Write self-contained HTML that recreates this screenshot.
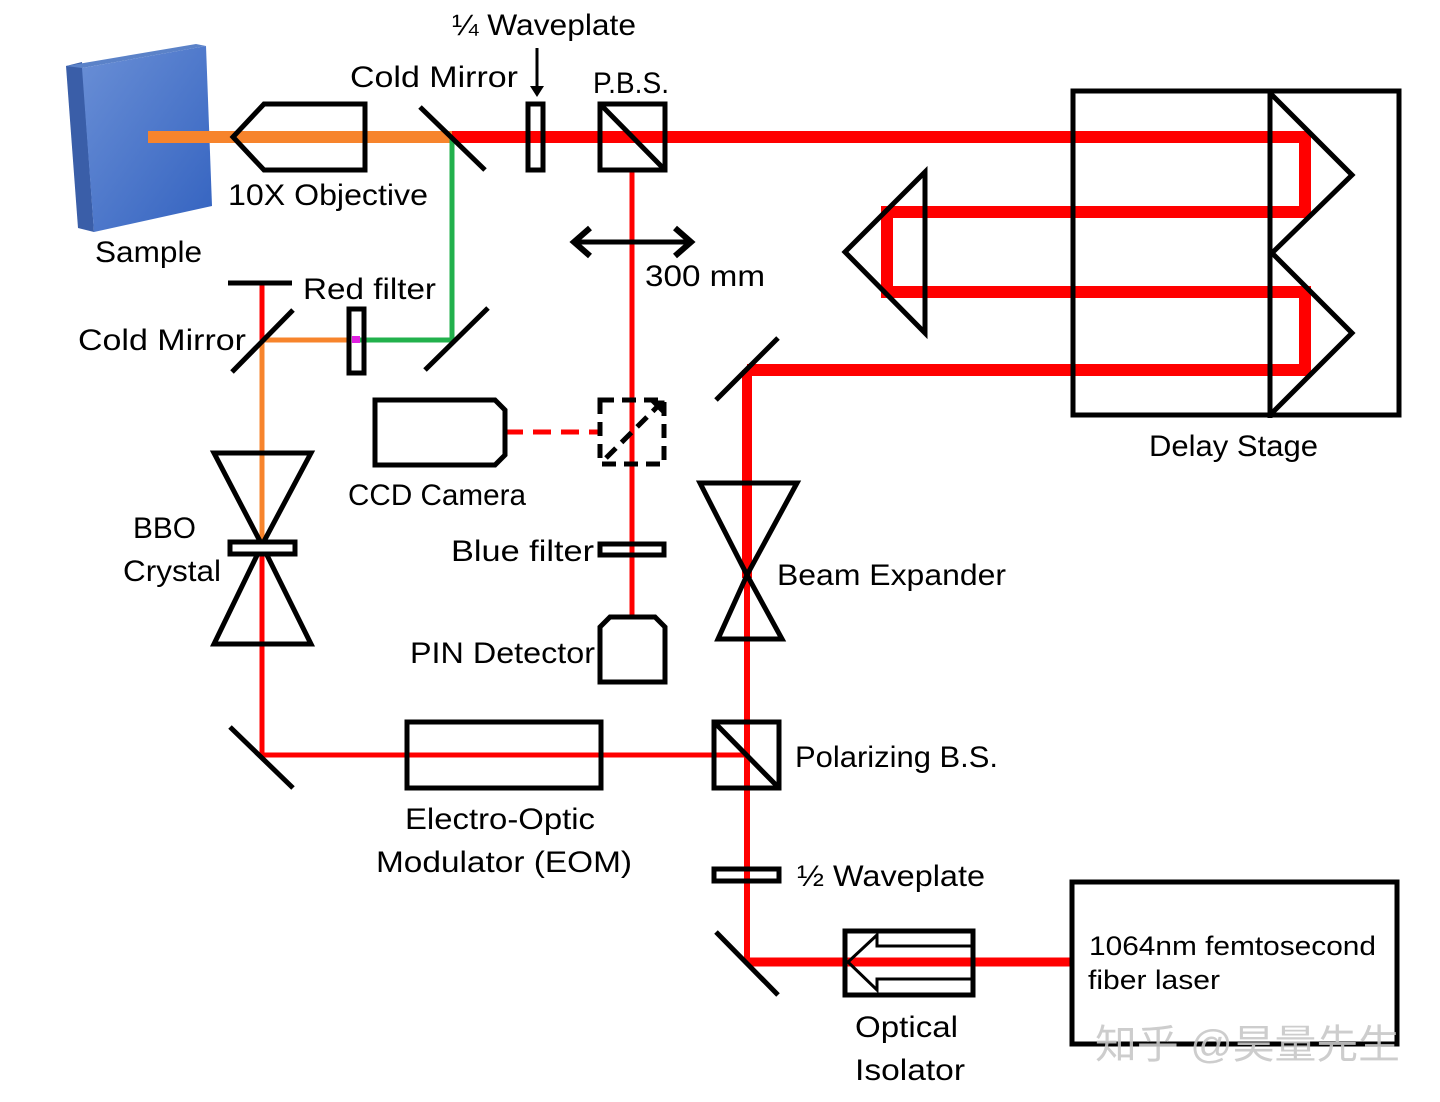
<!DOCTYPE html>
<html><head><meta charset="utf-8"><style>
html,body{margin:0;padding:0;background:#fff;}
svg{display:block}
text{font-family:"Liberation Sans","Noto Sans CJK SC",sans-serif;font-size:30px;fill:#000}
</style></head><body>
<svg width="1440" height="1102" viewBox="0 0 1440 1102">
<defs>
<linearGradient id="bl" x1="0" y1="0" x2="1" y2="1">
<stop offset="0" stop-color="#6a8fd6"/><stop offset="1" stop-color="#3463c0"/></linearGradient>
</defs>
<!-- Sample -->
<polygon points="66,66 82,62 94,232 78,228" fill="#3a5ea8"/>
<polygon points="66,66 196,44 206,46 82,68" fill="#5b82c8"/>
<polygon points="82,68 206,46 212,206 94,232" fill="url(#bl)"/>
<!-- beams -->
<g fill="none" stroke-linejoin="miter">
<line x1="148" y1="137" x2="452" y2="137" stroke="#f7842c" stroke-width="12"/>
<polyline points="452,137 1305,137 1305,212 887,212 887,292 1305,292 1305,370 747,370" stroke="#f00" stroke-width="12"/>
<line x1="747" y1="370" x2="747" y2="578" stroke="#f00" stroke-width="10"/>
<line x1="747" y1="575" x2="747" y2="962" stroke="#f00" stroke-width="6"/>
<line x1="747" y1="962" x2="1072" y2="962" stroke="#f00" stroke-width="9"/>
<line x1="632" y1="170" x2="632" y2="617" stroke="#f00" stroke-width="5"/>
<polyline points="452,137 452,340 357,340" stroke="#22b14c" stroke-width="5"/>
<line x1="262" y1="340" x2="350" y2="340" stroke="#f7842c" stroke-width="5"/>
<line x1="262" y1="283" x2="262" y2="340" stroke="#f00" stroke-width="5"/>
<line x1="262" y1="340" x2="262" y2="545" stroke="#f7842c" stroke-width="5"/>
<polyline points="262,545 262,755 747,755" stroke="#f00" stroke-width="5"/>
<line x1="505" y1="432" x2="600" y2="432" stroke="#f00" stroke-width="5" stroke-dasharray="18,10"/>
</g>
<rect x="352" y="336" width="8" height="7" fill="#e020e0"/>
<!-- black elements -->
<g fill="none" stroke="#000" stroke-width="5">
<polygon points="233,137 264,104 365,104 365,170 264,170" fill="none"/>
<line x1="420" y1="107" x2="485" y2="170"/>
<rect x="528" y="104" width="15" height="66"/>
<line x1="537" y1="48" x2="537" y2="88" stroke-width="3"/>
<rect x="600" y="104" width="65" height="66"/>
<line x1="602" y1="106" x2="663" y2="168"/>
<line x1="575" y1="242" x2="690" y2="242" stroke-width="5"/>
<polyline points="590,228 574,242 590,256" stroke-width="6"/>
<polyline points="675,228 691,242 675,256" stroke-width="6"/>
<line x1="425" y1="370" x2="488" y2="308"/>
<rect x="349" y="309" width="15" height="64"/>
<line x1="228" y1="283" x2="292" y2="283"/>
<line x1="232" y1="372" x2="293" y2="310"/>
<polygon points="214,453 311,453 262,545"/>
<polygon points="262,545 214,644 311,644"/>
<rect x="230" y="542" width="65" height="12" fill="#fff"/>
<line x1="230" y1="727" x2="293" y2="788"/>
<rect x="407" y="722" width="194" height="66"/>
<rect x="714" y="722" width="65" height="66"/>
<line x1="716" y1="724" x2="777" y2="786"/>
<rect x="714" y="869" width="65" height="12"/>
<line x1="716" y1="932" x2="778" y2="995"/>
<rect x="845" y="931" width="128" height="64"/>
<polyline points="973,946 877,946 877,935 848,962 877,990 877,979 973,979" stroke-width="3"/>
<rect x="1072" y="882" width="325" height="162"/>
<line x1="716" y1="400" x2="778" y2="338"/>
<polygon points="700,483 797,483 747,575"/>
<polygon points="747,575 718,639 782,639"/>
<path d="M375,400 H495 L505,410 V455 L495,465 H375 Z"/>
<rect x="600" y="400" width="64" height="64" stroke-dasharray="14,8"/>
<line x1="606" y1="458" x2="658" y2="406" stroke-dasharray="14,8"/>
<polygon points="655,403 662,403 662,410"/>
<rect x="600" y="544" width="64" height="11"/>
<path d="M600,682 V627 L610,617 H655 L665,627 V682 Z"/>
<rect x="1073" y="91" width="326" height="324"/>
<line x1="1270" y1="91" x2="1270" y2="418"/>
<polyline points="1270,93 1352,175 1272,253 1352,333 1270,415"/>
<polygon points="925,172 845,252 925,333"/>
</g>
<polygon points="530,86 544,86 537,97" fill="#000"/>
<!-- labels -->
<text x="452" y="35" textLength="184" lengthAdjust="spacingAndGlyphs">¼ Waveplate</text>
<text x="350" y="87" textLength="168" lengthAdjust="spacingAndGlyphs">Cold Mirror</text>
<text x="593" y="93" textLength="76" lengthAdjust="spacingAndGlyphs">P.B.S.</text>
<text x="228" y="205" textLength="200" lengthAdjust="spacingAndGlyphs">10X Objective</text>
<text x="95" y="262" textLength="107" lengthAdjust="spacingAndGlyphs">Sample</text>
<text x="303" y="299" textLength="133" lengthAdjust="spacingAndGlyphs">Red filter</text>
<text x="78" y="350" textLength="168" lengthAdjust="spacingAndGlyphs">Cold Mirror</text>
<text x="645" y="286" textLength="120" lengthAdjust="spacingAndGlyphs">300 mm</text>
<text x="348" y="505" textLength="178" lengthAdjust="spacingAndGlyphs">CCD Camera</text>
<text x="1149" y="456" textLength="169" lengthAdjust="spacingAndGlyphs">Delay Stage</text>
<text x="133" y="538" textLength="63" lengthAdjust="spacingAndGlyphs">BBO</text>
<text x="123" y="581" textLength="98" lengthAdjust="spacingAndGlyphs">Crystal</text>
<text x="451" y="561" textLength="143" lengthAdjust="spacingAndGlyphs">Blue filter</text>
<text x="777" y="585" textLength="229" lengthAdjust="spacingAndGlyphs">Beam Expander</text>
<text x="410" y="663" textLength="185" lengthAdjust="spacingAndGlyphs">PIN Detector</text>
<text x="795" y="767" textLength="203" lengthAdjust="spacingAndGlyphs">Polarizing B.S.</text>
<text x="405" y="829" textLength="190" lengthAdjust="spacingAndGlyphs">Electro-Optic</text>
<text x="376" y="872" textLength="256" lengthAdjust="spacingAndGlyphs">Modulator (EOM)</text>
<text x="797" y="886" textLength="188" lengthAdjust="spacingAndGlyphs">½ Waveplate</text>
<text x="855" y="1037" textLength="103" lengthAdjust="spacingAndGlyphs">Optical</text>
<text x="855" y="1080" textLength="110" lengthAdjust="spacingAndGlyphs">Isolator</text>
<text x="1089" y="955" style="font-size:27px" textLength="287" lengthAdjust="spacingAndGlyphs">1064nm femtosecond</text>
<text x="1088" y="989" style="font-size:27px" textLength="132" lengthAdjust="spacingAndGlyphs">fiber laser</text>
<text x="1095" y="1058" style="font-size:40px;fill:#c8c8c8;fill-opacity:0.9" textLength="305" lengthAdjust="spacingAndGlyphs">知乎 @昊量先生</text>
</svg>
</body></html>
